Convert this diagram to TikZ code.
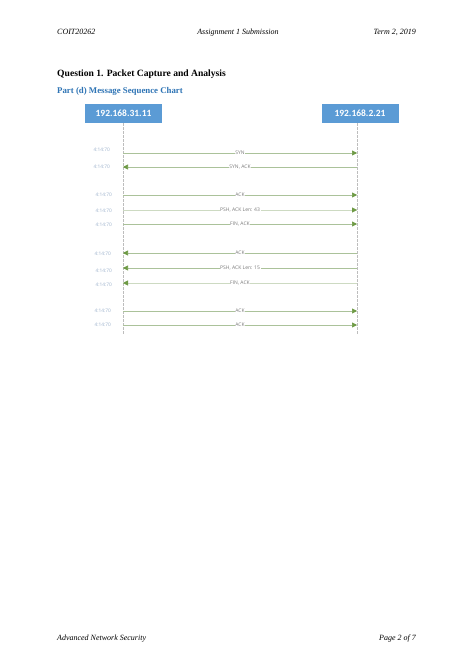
\documentclass[tikz,border=0pt]{standalone}
\usepackage{fontspec}
\setmainfont{Liberation Serif}
\newfontfamily\boxfont{Carlito}
\newfontfamily\lblfont{Open Sans}
\usetikzlibrary{arrows.meta}
\definecolor{boxblue}{HTML}{5B9BD5}
\definecolor{titleblue}{HTML}{2E74B5}
\definecolor{msgline}{HTML}{ABC29A}
\definecolor{msghead}{HTML}{6E9A45}
\definecolor{lifegrey}{HTML}{BDBDBD}
\definecolor{timeblue}{HTML}{9DB2CC}
\definecolor{lbltext}{HTML}{7A7A7A}
\tikzset{
  hdr/.style={font=\fontsize{8}{9}\selectfont\itshape, inner sep=0pt},
  host/.style={fill=boxblue, text=white, font=\boxfont\fontsize{9.5}{10}\selectfont\bfseries, minimum width=77pt, minimum height=19pt, inner sep=0pt},
  life/.style={draw=lifegrey, line width=0.5pt, dash pattern=on 2.5pt off 1.5pt},
  msg/.style={draw=msgline, line width=0.6pt, -{Triangle[length=5pt,width=5pt,color=msghead]}},
  msglight/.style={draw=msgline!60, line width=0.4pt, -{Triangle[length=5pt,width=5pt,color=msghead]}},
  lbl/.style={fill=white, inner sep=0.6pt, text=lbltext, font=\lblfont\fontsize{5}{5}\selectfont},
  tstamp/.style={text=timeblue, font=\lblfont\fontsize{4.8}{5}\selectfont, anchor=east, inner sep=0pt}
}
\begin{document}
\begin{tikzpicture}[x=1pt,y=-1pt]
\useasboundingbox[fill=white] (0,0) rectangle (474,669);
% header
\node[hdr, anchor=base west] (h1) at (57,35) {COIT20262};
\node[hdr, anchor=base] (h2) at (238,35) {Assignment 1 Submission};
\node[hdr, anchor=base east] (h3) at (416,35) {Term 2, 2019};
% titles
\node[anchor=base west, inner sep=0pt, font=\fontsize{9.6}{11}\selectfont\bfseries] (q1) at (57,77) {Question 1. Packet Capture and Analysis};
\node[anchor=base west, inner sep=0pt, text=titleblue, font=\fontsize{8.8}{10}\selectfont\bfseries] (pd) at (57,93) {Part (d) Message Sequence Chart};
% hosts
\node[host] (A) at (123.5,113.5) {192.168.31.11};
\node[host] (B) at (360,113.5) {192.168.2.21};
\coordinate (Aend) at (123,334);
\coordinate (Bend) at (357,334);
\draw[life] (A.south -| Aend) -- (Aend);
\draw[life] (B.south -| Bend) -- (Bend);
% messages
\foreach \i/\y in {1/153,2/167,3/195,4/210,5/224,6/253,7/268,8/283,9/311,10/325}{
  \coordinate (L\i) at (123,\y);
  \coordinate (R\i) at (357,\y);
}
\draw[msg] (L1) -- node[lbl] (m1) {SYN} (R1);
\draw[msg] (R2) -- node[lbl] (m2) {SYN, ACK} (L2);
\draw[msg] (L3) -- node[lbl] (m3) {ACK} (R3);
\draw[msglight] (L4) -- node[lbl] (m4) {PSH, ACK Len: 43} (R4);
\draw[msg] (L5) -- node[lbl] (m5) {FIN, ACK} (R5);
\draw[msg] (R6) -- node[lbl] (m6) {ACK} (L6);
\draw[msg] (R7) -- node[lbl] (m7) {PSH, ACK Len: 15} (L7);
\draw[msglight] (R8) -- node[lbl] (m8) {FIN, ACK} (L8);
\draw[msg] (L9) -- node[lbl] (m9) {ACK} (R9);
\draw[msg] (L10) -- node[lbl] (m10) {ACK} (R10);
% timestamps
\node[tstamp] (t1) at (110,150) {4:14:70};
\node[tstamp] (t2) at (110,167) {4:14:70};
\node[tstamp] (t3) at (112,195) {4:14:70};
\node[tstamp] (t4) at (112,211) {4:14:70};
\node[tstamp] (t5) at (112,225) {4:14:70};
\node[tstamp] (t6) at (111,254) {4:14:70};
\node[tstamp] (t7) at (112,271) {4:14:70};
\node[tstamp] (t8) at (112,285) {4:14:70};
\node[tstamp] (t9) at (111,311) {4:14:70};
\node[tstamp] (t10) at (111,325) {4:14:70};
% footer
\node[hdr, anchor=base west] (f1) at (57,640) {Advanced Network Security};
\node[hdr, anchor=base east] (f2) at (416,640) {Page 2 of 7};
\end{tikzpicture}
\end{document}
